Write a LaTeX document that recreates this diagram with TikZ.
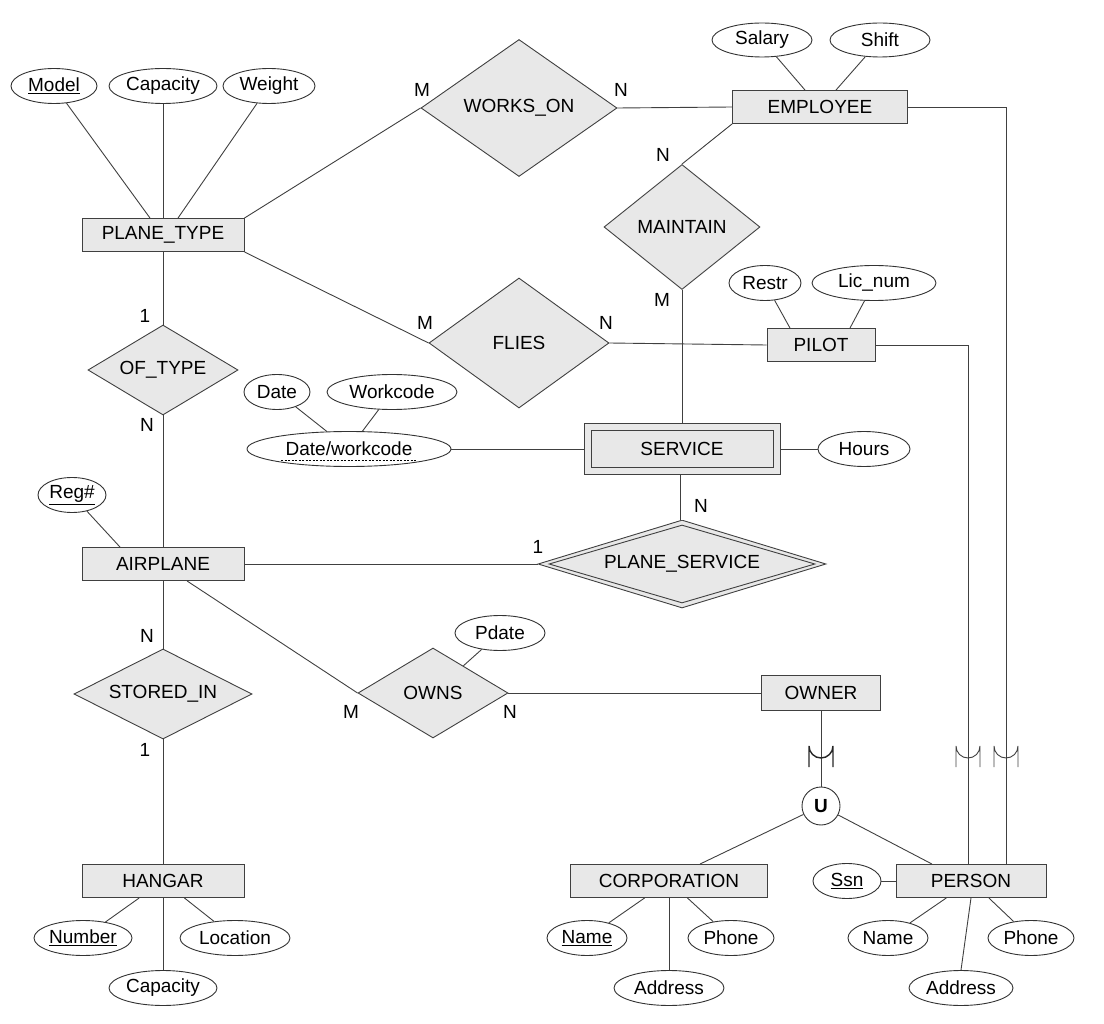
\documentclass[tikz,border=0pt]{standalone}
\usepackage{fontspec}
\setmainfont{Liberation Sans}
\usetikzlibrary{shapes.geometric}
\begin{document}
\begin{tikzpicture}[x=1pt,y=-1pt,
  every node/.style={font=\fontsize{19}{22}\selectfont},
  ln/.style={draw=black!75,line width=0.9pt},
  ent/.style={rectangle,draw=black!75,fill=black!9,line width=0.9pt,minimum height=33pt,inner sep=0pt},
  attr/.style={ellipse,draw=black!80,fill=white,line width=0.9pt,minimum height=35pt,inner sep=0pt},
  rel/.style={diamond,draw=black!75,fill=black!9,line width=0.9pt,inner sep=0pt},
  card/.style={inner sep=0pt}]
\useasboundingbox (0,0) rectangle (1104,1024);
% entities
\node[ent,minimum width=175pt] (EMP) at (820,107) {EMPLOYEE};
\node[ent,minimum width=162pt] (PT) at (163,235) {PLANE\_TYPE};
\node[ent,minimum width=108pt] (PIL) at (821,345) {PILOT};
\node[ent,minimum width=196pt,minimum height=51pt] (SRV) at (682,449) {};
\node[ent,minimum width=182pt,minimum height=37pt] (SRVi) at (682,449) {SERVICE};
\node[ent,minimum width=162pt] (AIR) at (163,564) {AIRPLANE};
\node[ent,minimum width=119pt,minimum height=35pt] (OWN) at (821,693) {OWNER};
\node[ent,minimum width=162pt] (HAN) at (163,881) {HANGAR};
\node[ent,minimum width=197pt] (COR) at (669,881) {CORPORATION};
\node[ent,minimum width=150pt] (PER) at (971,881) {PERSON};
% relationships
\node[rel,minimum width=196pt,minimum height=137pt,aspect=1.43] (WO) at (519,108) {WORKS\_ON};
\node[rel,minimum width=156pt,minimum height=125pt,aspect=1.25] (MA) at (682,227) {MAINTAIN};
\node[rel,minimum width=180pt,minimum height=130pt,aspect=1.38] (FL) at (519,343) {FLIES};
\node[rel,minimum width=150pt,minimum height=90pt,aspect=1.67] (OT) at (163,370) {OF\_TYPE};
\node[rel,minimum width=288pt,minimum height=88pt,aspect=3.27] (PS) at (682,564) {};
\node[rel,minimum width=266pt,minimum height=78pt,aspect=3.4] (PSi) at (682,564) {PLANE\_SERVICE};
\node[rel,minimum width=178pt,minimum height=90pt,aspect=1.98] (SI) at (163,694) {STORED\_IN};
\node[rel,minimum width=150pt,minimum height=90pt,aspect=1.67] (OW) at (433,693) {OWNS};
% attributes
\node[attr,minimum width=86pt] (Model) at (54,86) {\underline{Model}};
\node[attr,minimum width=108pt] (Cap) at (163,86) {Capacity};
\node[attr,minimum width=92pt] (Wt) at (269,86) {Weight};
\node[attr,minimum width=100pt,minimum height=34pt] (Sal) at (762,40) {Salary};
\node[attr,minimum width=100pt,minimum height=34pt] (Shi) at (880,40) {Shift};
\node[attr,minimum width=72pt] (Res) at (765,283) {Restr};
\node[attr,minimum width=124pt] (Lic) at (874,283) {Lic\_num};
\node[attr,minimum width=66pt] (Dat) at (277,392) {Date};
\node[attr,minimum width=130pt] (Wc) at (392,392) {Workcode};
\node[attr,minimum width=204pt] (DW) at (349,449) {Date/workcode};
\draw[dash pattern=on 2pt off 1.5pt,line width=0.8pt] ([shift={(-68,11)}]DW.center) -- ([shift={(68,11)}]DW.center);
\node[attr,minimum width=92pt] (Hrs) at (864,449) {Hours};
\node[attr,minimum width=68pt] (Reg) at (72,495) {\underline{Reg\#}};
\node[attr,minimum width=90pt] (Pd) at (500,633) {Pdate};
\node[attr,minimum width=68pt] (Ssn) at (847,881) {\underline{Ssn}};
\node[attr,minimum width=98pt] (Num) at (83,938) {\underline{Number}};
\node[attr,minimum width=110pt] (Loc) at (235,938) {Location};
\node[attr,minimum width=108pt] (HCap) at (163,988) {Capacity};
\node[attr,minimum width=80pt] (CNam) at (587,938) {\underline{Name}};
\node[attr,minimum width=86pt] (CPh) at (731,938) {Phone};
\node[attr,minimum width=110pt] (CAd) at (669,988) {Address};
\node[attr,minimum width=80pt] (PNam) at (888,938) {Name};
\node[attr,minimum width=86pt] (PPh) at (1031,938) {Phone};
\node[attr,minimum width=104pt] (PAd) at (961,988) {Address};
\node[circle,draw=black!80,fill=white,line width=0.9pt,minimum size=38pt,inner sep=0pt,font=\fontsize{19}{22}\selectfont\bfseries] (U) at (821,806) {U};
% connectors
\begin{scope}[on background layer/.style={}]
\end{scope}
\draw[ln] (Model) -- (PT.north -| 150,0);
\draw[ln] (Cap) -- (PT);
\draw[ln] (Wt) -- (PT.north -| 178,0);
\draw[ln] (PT.north east) -- (WO.west);
\draw[ln] (WO.east) -- (EMP.west);
\draw[ln] (Sal) -- (EMP.north -| 805,0);
\draw[ln] (Shi) -- (EMP.north -| 836,0);
\draw[ln] (EMP.south west) -- (MA.north);
\draw[ln] (MA.south) -- (SRV.north);
\draw[ln] (PT.south east) -- (FL.west);
\draw[ln] (FL.east) -- (PIL.west);
\draw[ln] (Res) -- (PIL.north -| 790,0);
\draw[ln] (Lic) -- (PIL.north -| 850,0);
\coordinate (pc) at (968,345);
\coordinate (ec) at (1006,107);
\draw[ln] (PIL.east) -- (pc) -- (PER.north -| pc);
\draw[ln] (EMP.east) -- (ec) -- (PER.north -| ec);
\draw[ln] (956,767) -- (956,746) arc(180:0:12) -- (980,767);
\draw[ln] (994,767) -- (994,746) arc(180:0:12) -- (1018,767);
\draw[ln] (PT.south) -- (OT.north);
\draw[ln] (OT.south) -- (AIR.north);
\draw[ln] (Dat) -- (DW);
\draw[ln] (Wc) -- (DW);
\draw[ln] (DW.east) -- (SRV.west);
\draw[ln] (SRV.east) -- (Hrs.west);
\draw[draw=black!75,line width=0.9pt,double=white,double distance=3pt] (SRV.south) -- (PS.north);
\draw[ln] (AIR.east) -- (PS.west);
\draw[ln] (Reg) -- (AIR.north -| 120,0);
\draw[ln] (AIR.south -| 187,0) -- (OW.west);
\draw[ln] (OW.east) -- (OWN.west);
\draw[ln] (Pd) -- (OW);
\draw[ln] (AIR.south) -- (SI.north);
\draw[ln] (SI.south) -- (HAN.north);
\draw[ln] (HAN) -- (Num);
\draw[ln] (HAN) -- (Loc);
\draw[ln] (HAN.south) -- (HCap.north);
\draw[ln] (OWN.south) -- (U.north);
\draw[black!85,line width=1.4pt] (809,767) -- (809,746) arc(180:0:12) -- (833,767);
\draw[ln] (U) -- (COR.north -| 700,0);
\draw[ln] (U) -- (PER.north -| 932,0);
\draw[ln] (Ssn.east) -- (PER.west);
\draw[ln] (COR) -- (CNam);
\draw[ln] (COR) -- (CPh);
\draw[ln] (COR.south) -- (CAd.north);
\draw[ln] (PER) -- (PNam);
\draw[ln] (PER) -- (PPh);
\draw[ln] (PER.south) -- (PAd.north);
% redraw nodes on top
\foreach \n/\t in {Model/\underline{Model},Cap/Capacity,Wt/Weight,Sal/Salary,Shi/Shift,Res/Restr,Lic/Lic\_num,Dat/Date,Wc/Workcode,Hrs/Hours,Reg/\underline{Reg\#},Pd/Pdate,Ssn/\underline{Ssn},Num/\underline{Number},Loc/Location,HCap/Capacity,CNam/\underline{Name},CPh/Phone,CAd/Address,PNam/Name,PPh/Phone,PAd/Address}{}
% cardinalities
\node[card] at (422,90) {M};
\node[card] at (621,90) {N};
\node[card] at (663,155) {N};
\node[card] at (662,300) {M};
\node[card] at (425,323) {M};
\node[card] at (606,323) {N};
\node[card] at (145,316) {1};
\node[card] at (147,425) {N};
\node[card] at (701,506) {N};
\node[card] at (538,547) {1};
\node[card] at (147,636) {N};
\node[card] at (145,750) {1};
\node[card] at (351,712) {M};
\node[card] at (510,712) {N};
\end{tikzpicture}
\end{document}
